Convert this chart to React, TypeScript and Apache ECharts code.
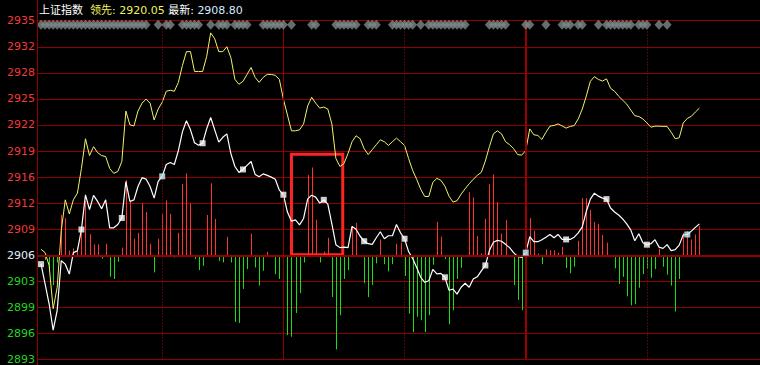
import React, { useEffect, useRef } from "react";
import * as echarts from "echarts";

// ---- text ----
const TITLE_NAME = "上证指数";
const LEAD_LABEL = "领先";
const LEAD_VALUE = "2920.05";
const LAST_LABEL = "最新";
const LAST_VALUE = "2908.80";

// ---- price axis ----
const BASE = 2906; // zero line (previous close)
const STEP = 3.25;
const TICK_LABELS = ["2893", "2896", "2899", "2903", "2906", "2909", "2912", "2916", "2919", "2922", "2925", "2928", "2932", "2935"];
const MIN_STEPS_BELOW = 4;
const STEPS_ABOVE = 9;

// ---- time axis (minutes since 9:30) ----
const FIRST_MINUTE = -1;
const LAST_MINUTE = 178;
const TIME_LINES = [
  { minute: 30, kind: "dotted" },
  { minute: 60, kind: "solid" },
  { minute: 90, kind: "dotted" },
  { minute: 120, kind: "thick" },
  { minute: 150, kind: "dotted" },
];

// ---- series ----
const YELLOW = [
  2906.74, 2906.33, 2904.73, 2899.33, 2902.01, 2909.05, 2912.91, 2911.15, 2912.91, 2913.74,
  2916.82, 2920.53, 2918.43, 2919.54, 2918.8, 2918.43, 2918.31, 2916.82, 2916.21, 2916.45,
  2917.69, 2923.98, 2922.26, 2922.13, 2923.98, 2924.97, 2925.47, 2924.97, 2922.87, 2924.23,
  2925.09, 2926.45, 2926.58, 2926.45, 2927.56, 2929.66, 2931.39, 2931.39, 2928.92, 2928.92,
  2928.92, 2930.77, 2933.73, 2932.99, 2931.39, 2931.39, 2932.01, 2930.65, 2927.93, 2927.32,
  2927.69, 2928.55, 2929.41, 2928.18, 2927.56, 2928.18, 2928.55, 2928.55, 2928.43, 2927.93,
  2925.47, 2923.49, 2921.52, 2921.52, 2921.64, 2922.38, 2924.6, 2925.71, 2924.97, 2924.35,
  2924.48, 2924.23, 2922.38, 2918.06, 2917.07, 2917.44, 2918.68, 2920.16, 2920.9, 2920.53,
  2919.29, 2918.55, 2919.17, 2919.79, 2920.4, 2920.16, 2919.7, 2920.16, 2920.61, 2920.16,
  2919.7, 2918.06, 2916.58, 2915.47, 2914.23, 2913.33, 2913.33, 2915.1, 2915.59, 2915.34,
  2914.6, 2913.37, 2912.63, 2912.81, 2913.62, 2914.29, 2914.91, 2915.47, 2915.96, 2916.33,
  2917.75, 2919.54, 2921.14, 2921.52, 2921.14, 2920.16, 2919.79, 2919.29, 2918.55, 2918.49,
  2919.05, 2921.76, 2921.02, 2920.94, 2920.44, 2921.33, 2922.1, 2922.19, 2922.38, 2922.13,
  2921.85, 2922.07, 2922.17, 2923.0, 2924.23, 2925.87, 2927.69, 2928.27, 2927.93, 2927.72,
  2928.0, 2926.82, 2926.45, 2925.84, 2925.34, 2924.85, 2924.11, 2923.4, 2923.3, 2923.0,
  2922.5, 2921.97, 2922.1, 2922.1, 2922.07, 2922.07, 2921.35, 2920.53, 2920.65, 2922.5,
  2923.06, 2923.33, 2923.86, 2924.35,
];

const WHITE = [
  2904.89, 2902.42, 2899.95, 2896.67, 2899.14, 2905.31, 2904.89, 2903.65, 2906.33, 2906.54,
  2909.21, 2913.53, 2911.68, 2913.46, 2912.71, 2911.8, 2912.91, 2909.42, 2909.42, 2909.83,
  2910.65, 2915.18, 2912.71, 2912.91, 2914.57, 2915.68, 2915.5, 2914.57, 2913.12, 2915.22,
  2915.84, 2917.32, 2917.57, 2917.32, 2919.05, 2921.39, 2922.79, 2921.64, 2920.03, 2919.73,
  2919.97, 2921.76, 2923.18, 2921.64, 2920.1, 2920.71, 2921.14, 2918.68, 2917.07, 2916.33,
  2916.7, 2917.2, 2917.69, 2916.08, 2915.78, 2916.15, 2915.96, 2915.74, 2915.47, 2914.11,
  2913.55, 2911.39, 2910.25, 2910.41, 2909.79, 2910.59, 2913.0, 2913.49, 2913.25, 2912.5,
  2912.91, 2912.38, 2909.91, 2907.32, 2906.95, 2907.01, 2906.95, 2909.6, 2909.23, 2908.37,
  2907.75, 2907.44, 2907.35, 2908.18, 2908.93, 2908.06, 2908.43, 2908.43, 2909.83, 2908.8,
  2908.06, 2906.46, 2905.59, 2904.48, 2903.25, 2902.63, 2902.82, 2904.23, 2903.68, 2903.74,
  2903.25, 2901.64, 2901.77, 2901.15, 2902.01, 2902.51, 2902.01, 2903.04, 2903.31, 2904.05,
  2904.73, 2906.58, 2907.63, 2907.85, 2907.75, 2907.36, 2906.95, 2906.33, 2905.84, 2905.72,
  2906.33, 2908.31, 2907.69, 2907.69, 2907.94, 2908.25, 2908.59, 2908.18, 2908.59, 2907.97,
  2907.97, 2907.97, 2908.25, 2908.8, 2909.54, 2911.48, 2913.0, 2913.74, 2913.37, 2913.12,
  2913.0, 2911.89, 2911.39, 2911.02, 2910.53, 2909.91, 2909.17, 2907.81, 2908.68, 2907.57,
  2907.32, 2907.44, 2907.94, 2907.01, 2906.86, 2907.32, 2906.58, 2906.7, 2907.26, 2908.55,
  2908.59, 2909.01, 2909.48, 2909.91,
];

// red (+) / green (-) bars measured from the zero line
const BARS = [
  0, -0.59, -1.89, -3.74, -0.9, 5.02, 4.65, 0.58, 0.86, 0.95,
  2.8, 6.75, 2.62, 1.36, 1.36, -0.41, 1.44, -2.67, -2.96, -0.81,
  0.95, 9.38, 6.71, 2.06, 2.8, 6.5, 5.39, 1.44, -2.14, 2.06,
  5.18, 6.84, 5.15, -0.28, 2.8, 8.89, 10.21, 6.5, -0.49, -1.85,
  -1.31, 5.02, 8.97, 4.53, -0.69, -0.9, 2.31, -0.9, -8.31, -8.43,
  -4.2, -1.73, 2.68, -1.52, -3.78, -1.93, 0.42, -0.2, -2.35, -2.96,
  -7.07, -9.95, -10.16, -7.2, -4.73, -0.9, 10.0, 10.95, 4.44, -0.9,
  0.46, 2.18, -5.22, -11.73, -7.48, -2.96, -1.85, 3.63, 4.04, -0.2,
  -3.49, -5.22, -3.68, -1.02, 1.97, -1.11, -2.01, -1.11, 1.44, 1.57,
  -2.57, -7.28, -9.6, -7.69, -8.1, -9.6, -7.48, -1.18, 4.16, 2.33,
  -0.49, -8.62, -6.86, -2.96, -1.56, -0.12, 7.86, 7.21, 2.39, 0.21,
  4.53, 8.85, 10.08, 6.63, 2.68, 4.37, -0.16, -3.72, -5.56, -6.86,
  0, 4.65, 3.05, 0.21, -1.11, 0.74, 0.62, 0.62, 0.33, 1.04,
  -1.6, -2.26, -1.43, 1.81, 7.12, 7.12, 5.64, 4.16, 3.92, 2.52,
  1.57, -0.12, -1.64, -3.58, -2.69, -5.13, -6.25, -6.12, -4.05, -2.35,
  -1.64, -2.81, -1.73, 0.83, -1.43, -2.42, -3.78, -7.01, -2.96, 2.8,
  3.01, 1.97, 2.59, 3.63,
];

// square markers on the white line every 10 minutes
const MARK_MINUTES = [0, 10, 20, 30, 40, 50, 60, 70, 80, 90, 100, 110, 120, 130, 140, 150, 160];
const MARK_HIGHLIGHT = [30, 120, 160];

// grey diamond signals along the top (runs of minutes)
const SIGNAL_RUNS = [
  [0, 26], [29, 29], [31, 32], [35, 39], [42, 42], [44, 46], [48, 51], [55, 60], [62, 62],
  [67, 68], [73, 78], [81, 83], [87, 92], [94, 94], [96, 105], [111, 115], [120, 121],
  [125, 125], [129, 131], [133, 134], [138, 138], [140, 146], [148, 150], [153, 153], [155, 155],
];
const SIGNAL_LEVEL = 2934.75;

// highlighted box (minutes / prices)
const BOX = { from: 62, to: 74.7, low: 2906.06, high: 2918.6 };

const RED = "#ff3232";
const GREEN = "#14e014";
const GRID = "#8c0000";
const FONT = "DejaVu Sans, Noto Sans CJK SC, sans-serif";

export default function App() {
  const ref = useRef<HTMLDivElement>(null);

  useEffect(() => {
    if (!ref.current) return;
    const chart = echarts.init(ref.current, null, { renderer: "svg" });
    const rel = (p: number) => +(p - BASE).toFixed(4);
    const yMin = -MIN_STEPS_BELOW * STEP;
    const yMax = STEPS_ABOVE * STEP;

    const yellowData = YELLOW.map((v, i) => [i, rel(v)]);
    const whiteData = WHITE.map((v, i) => [i, rel(v)]);
    const barData = BARS.map((v, i) => [i, v]).filter((d) => d[1] !== 0);
    const markData = MARK_MINUTES.map((m) => ({
      value: [m, rel(WHITE[m])],
      itemStyle: { color: MARK_HIGHLIGHT.includes(m) ? "#c4f4ff" : "#ffffff" },
    }));
    const signalData: number[][] = [];
    SIGNAL_RUNS.forEach(([a, b]) => {
      for (let m = a; m <= b; m++) signalData.push([m, rel(SIGNAL_LEVEL)]);
    });

    const timeLineData = TIME_LINES.map((t) => ({
      xAxis: t.minute,
      lineStyle:
        t.kind === "dotted"
          ? { type: [1, 2], color: "#a00c0c", width: 1 }
          : t.kind === "thick"
          ? { type: "solid", color: "#9a0000", width: 2 }
          : { type: "solid", color: "#8c0000", width: 1 },
    }));

    const labelColor = (v: number) => {
      const idx = Math.round((v - yMin) / STEP);
      if (idx === MIN_STEPS_BELOW) return "#e6f2ff";
      return idx > MIN_STEPS_BELOW ? "#f03a3a" : "#20d820";
    };

    chart.setOption({
      animation: false,
      backgroundColor: "#000000",
      title: {
        left: 39,
        top: 3.5,
        padding: 0,
        text: `{w|${TITLE_NAME}}  {y|${LEAD_LABEL}: ${LEAD_VALUE}} {w|${LAST_LABEL}: }{b|${LAST_VALUE}}`,
        textStyle: {
          fontSize: 11,
          fontWeight: "normal",
          fontFamily: FONT,
          rich: {
            w: { color: "#ffffff", fontSize: 11, fontFamily: FONT, lineHeight: 13 },
            y: { color: "#f2f25e", fontSize: 11, fontFamily: FONT, lineHeight: 13 },
            b: { color: "#d6ebff", fontSize: 11, fontFamily: FONT, lineHeight: 13 },
          },
        },
      },
      grid: { left: 37, right: 0, top: 20.7, bottom: 2.3 },
      xAxis: {
        type: "value",
        min: FIRST_MINUTE,
        max: LAST_MINUTE,
        show: false,
        splitLine: { show: false },
      },
      yAxis: {
        type: "value",
        min: yMin,
        max: yMax,
        interval: STEP,
        axisLine: { show: false },
        axisTick: { show: false },
        splitLine: { show: true, lineStyle: { color: GRID, width: 1 } },
        axisLabel: {
          margin: 2,
          fontSize: 11,
          fontFamily: FONT,
          formatter: (v: number) => TICK_LABELS[Math.round((v - yMin) / STEP)] ?? "",
          color: (v: number) => labelColor(v),
        },
      },
      graphic: [
        {
          type: "line",
          shape: { x1: 37.5, y1: 0, x2: 37.5, y2: 365 },
          style: { stroke: GRID, lineWidth: 1 },
          z: 100,
        },
      ],
      series: [
        {
          type: "custom",
          data: barData,
          z: 2,
          clip: true,
          renderItem: (params: any, api: any) => {
            const v = api.value(1);
            const base = api.coord([api.value(0), 0]);
            const top = api.coord([api.value(0), v]);
            const px = Math.round(base[0]) + 0.5;
            return {
              type: "line",
              shape: { x1: px, y1: base[1], x2: px, y2: top[1] },
              style: { stroke: v >= 0 ? RED : GREEN, lineWidth: 1 },
            };
          },
          markLine: {
            silent: true,
            symbol: "none",
            label: { show: false },
            data: [
              ...timeLineData,
              { yAxis: 0, lineStyle: { type: "solid", color: "#940000", width: 2 } },
            ],
          },
          markArea: {
            silent: true,
            itemStyle: { color: "rgba(0,0,0,0)", borderColor: "#ff2424", borderWidth: 3 },
            data: [[{ xAxis: BOX.from, yAxis: rel(BOX.low) }, { xAxis: BOX.to, yAxis: rel(BOX.high) }]],
          },
        },
        {
          type: "line",
          data: yellowData,
          showSymbol: false,
          z: 3,
          lineStyle: { color: "#f2f26a", width: 1 },
        },
        {
          type: "line",
          data: whiteData,
          showSymbol: false,
          z: 4,
          lineStyle: { color: "#ffffff", width: 1.2 },
        },
        {
          type: "scatter",
          data: markData,
          symbol: "rect",
          symbolSize: 6,
          z: 5,
        },
        {
          type: "scatter",
          data: signalData,
          symbol: "diamond",
          symbolSize: [9, 10],
          z: 5,
          itemStyle: { color: "#7e8888" },
        },
      ],
    });
    return () => chart.dispose();
  }, []);

  return (
    <div
      ref={ref}
      style={{ position: "fixed", left: 0, top: 0, width: 760, height: 365, background: "#000" }}
    />
  );
}
